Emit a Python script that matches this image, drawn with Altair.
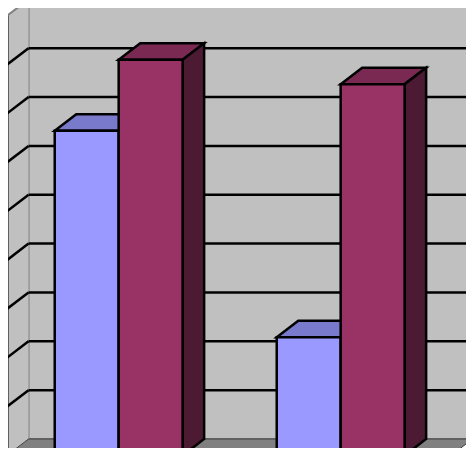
import altair as alt
import pandas as pd

# values (one unit = one gridline step)
categories = ["Group 1", "Group 2"]
series = ["Series 1", "Series 2"]
values_s1 = [6.65, 2.42]
values_s2 = [8.1, 7.6]
grid_levels = [1, 2, 3, 4, 5, 6, 7, 8]
wall_top = 9

front_colors = ["#9999ff", "#993366"]
top_colors = ["#7a7acc", "#7a2952"]
side_colors = ["#5c5c99", "#4d1a33"]

# 3d layout (category units on x, value units on y)
DX = 0.097
DY = 0.338
BAR_START = 0.215
BAR_W = 0.288
U_DOMAIN = [1 / 222, 459 / 222]
V_DOMAIN = [7.5 / 48.85, 447.5 / 48.85]


def X(field):
    return alt.X(field, type="quantitative", scale=alt.Scale(domain=U_DOMAIN, nice=False, zero=False), axis=None)


def Y(field):
    return alt.Y(field, type="quantitative", scale=alt.Scale(domain=V_DOMAIN, nice=False, zero=False), axis=None)


bar_rows, top_rows, side_rows = [], [], []
for gi, cat in enumerate(categories):
    for si, vals in enumerate([values_s1, values_s2]):
        v = vals[gi]
        u0 = gi + BAR_START + si * BAR_W
        u1 = u0 + BAR_W
        bid = f"{cat}-{series[si]}"
        bar_rows.append(dict(bar=bid, u0=u0, u1=u1, v=v, base=0, fill=front_colors[si]))
        for u, lo, hi in [(u0, v, v), (u0 + DX, v, v + DY), (u1, v, v + DY), (u1 + DX, v + DY, v + DY)]:
            top_rows.append(dict(bar=bid, u=u, lo=lo, hi=hi, fill=top_colors[si]))
        for u, lo, hi in [(u1, 0, v), (u1 + DX, DY, v + DY)]:
            side_rows.append(dict(bar=bid, u=u, lo=lo, hi=hi, fill=side_colors[si]))

bars = pd.DataFrame(bar_rows)
tops = pd.DataFrame(top_rows)
sides = pd.DataFrame(side_rows)

n_cat = len(categories)
back = pd.DataFrame([dict(u0=DX, u1=n_cat + DX, v0=DY, v1=wall_top + DY)])
side_wall = pd.DataFrame([dict(u=0, lo=0, hi=wall_top), dict(u=DX, lo=DY, hi=wall_top + DY)])
floor = pd.DataFrame([
    dict(u=0, lo=0, hi=0),
    dict(u=DX, lo=0, hi=DY),
    dict(u=n_cat, lo=0, hi=DY),
    dict(u=n_cat + DX, lo=DY, hi=DY),
])
grid = pd.DataFrame(dict(k=grid_levels))
grid = grid.assign(kb=grid.k + DY, u0=0.0, ub=DX, ue=n_cat + DX)
edge = pd.DataFrame([dict(u0=0, v0=0, v1=wall_top, ub=DX, vb=wall_top + DY)])

back_wall = alt.Chart(back).mark_rect(fill="#c0c0c0", stroke="#808080", strokeWidth=2).encode(
    x=X("u0"), x2="u1", y=Y("v0"), y2="v1",
)
side = alt.Chart(side_wall).mark_area(fill="#c0c0c0", orient="vertical").encode(
    x=X("u"), y=Y("lo"), y2="hi",
)
floor_layer = alt.Chart(floor).mark_area(fill="#808080", stroke="#404040", strokeWidth=1, orient="vertical").encode(
    x=X("u"), y=Y("lo"), y2="hi",
)
back_grid = alt.Chart(grid).mark_rule(color="black", strokeWidth=2.5).encode(
    x=X("ub"), x2="ue", y=Y("kb"),
)
side_grid = alt.Chart(grid).mark_rule(color="black", strokeWidth=2.5).encode(
    x=X("u0"), x2="ub", y=Y("k"), y2="kb",
)
side_top = alt.Chart(edge).mark_rule(color="#808080", strokeWidth=2).encode(
    x=X("u0"), x2="ub", y=Y("v1"), y2="vb",
)
axis_line = alt.Chart(edge).mark_rule(color="black", strokeWidth=3).encode(
    x=X("u0"), y=Y("v0"), y2="v1",
)

top_faces = alt.Chart(tops).mark_area(stroke="black", strokeWidth=2.5, orient="vertical").encode(
    x=X("u"), y=Y("lo"), y2="hi",
    fill=alt.Fill("fill:N", scale=None),
    detail="bar:N",
)
side_faces = alt.Chart(sides).mark_area(stroke="black", strokeWidth=2.5, orient="vertical").encode(
    x=X("u"), y=Y("lo"), y2="hi",
    fill=alt.Fill("fill:N", scale=None),
    detail="bar:N",
)
front_faces = alt.Chart(bars).mark_rect(stroke="black", strokeWidth=2.5).encode(
    x=X("u0"), x2="u1", y=Y("base"), y2="v",
    fill=alt.Fill("fill:N", scale=None),
)

chart = alt.layer(
    back_wall, side, floor_layer, back_grid, side_grid, side_top, axis_line,
    top_faces, side_faces, front_faces,
).properties(
    width=458,
    height=440,
    padding=0,
    autosize=alt.AutoSizeParams(type="none"),
).configure_view(strokeWidth=0)

chart.save("out.html", embed_options={"renderer": "svg", "actions": False})
